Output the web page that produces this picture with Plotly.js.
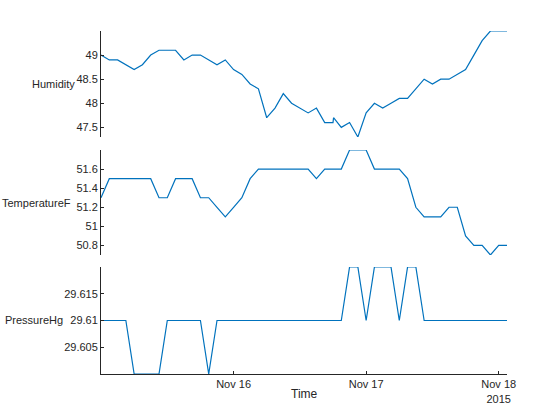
<!DOCTYPE html>
<html>
<head>
<meta charset="utf-8">
<script src="https://cdn.plot.ly/plotly-3.0.1.min.js"></script>
<style>
  body { margin: 0; background: #fff; }
  #chart { width: 560px; height: 420px; }
</style>
</head>
<body>
<div id="chart"></div>
<script>
// readings every 1.5 h from Nov 15 00:00, plus one extra reading just after 18:00 on Nov 16
let times = [
  "2015-11-15 00:00", "2015-11-15 01:30", "2015-11-15 03:00", "2015-11-15 04:30",
  "2015-11-15 06:00", "2015-11-15 07:30", "2015-11-15 09:00", "2015-11-15 10:30",
  "2015-11-15 12:00", "2015-11-15 13:30", "2015-11-15 15:00", "2015-11-15 16:30",
  "2015-11-15 18:00", "2015-11-15 19:30", "2015-11-15 21:00", "2015-11-15 22:30",
  "2015-11-16 00:00", "2015-11-16 01:30", "2015-11-16 03:00", "2015-11-16 04:30",
  "2015-11-16 06:00", "2015-11-16 07:30", "2015-11-16 09:00", "2015-11-16 10:30",
  "2015-11-16 12:00", "2015-11-16 13:30", "2015-11-16 15:00", "2015-11-16 16:30",
  "2015-11-16 18:00", "2015-11-16 18:06", "2015-11-16 19:30", "2015-11-16 21:00",
  "2015-11-16 22:30", "2015-11-17 00:00", "2015-11-17 01:30", "2015-11-17 03:00",
  "2015-11-17 04:30", "2015-11-17 06:00", "2015-11-17 07:30", "2015-11-17 09:00",
  "2015-11-17 10:30", "2015-11-17 12:00", "2015-11-17 13:30", "2015-11-17 15:00",
  "2015-11-17 16:30", "2015-11-17 18:00", "2015-11-17 19:30", "2015-11-17 21:00",
  "2015-11-17 22:30", "2015-11-18 00:00", "2015-11-18 01:30"
];

let humidity = [
  49.0, 48.9, 48.9, 48.8, 48.7, 48.8, 49.0, 49.1, 49.1, 49.1,
  48.9, 49.0, 49.0, 48.9, 48.8, 48.9, 48.7, 48.6, 48.4, 48.3,
  47.7, 47.9, 48.2, 48.0, 47.9, 47.8, 47.9, 47.6, 47.6, 47.7,
  47.5, 47.6, 47.3, 47.8, 48.0, 47.9, 48.0, 48.1, 48.1, 48.3,
  48.5, 48.4, 48.5, 48.5, 48.6, 48.7, 49.0, 49.3, 49.5, 49.5, 49.5
];

let temperatureF = [
  51.3, 51.5, 51.5, 51.5, 51.5, 51.5, 51.5, 51.3, 51.3, 51.5,
  51.5, 51.5, 51.3, 51.3, 51.2, 51.1, 51.2, 51.3, 51.5, 51.6,
  51.6, 51.6, 51.6, 51.6, 51.6, 51.6, 51.5, 51.6, 51.6, 51.6,
  51.6, 51.8, 51.8, 51.8, 51.6, 51.6, 51.6, 51.6, 51.5, 51.2,
  51.1, 51.1, 51.1, 51.2, 51.2, 50.9, 50.8, 50.8, 50.7, 50.8, 50.8
];

let pressureHg = [
  29.61, 29.61, 29.61, 29.61, 29.60, 29.60, 29.60, 29.60, 29.61, 29.61,
  29.61, 29.61, 29.61, 29.60, 29.61, 29.61, 29.61, 29.61, 29.61, 29.61,
  29.61, 29.61, 29.61, 29.61, 29.61, 29.61, 29.61, 29.61, 29.61, 29.61,
  29.61, 29.62, 29.62, 29.61, 29.62, 29.62, 29.62, 29.61, 29.62, 29.62,
  29.61, 29.61, 29.61, 29.61, 29.61, 29.61, 29.61, 29.61, 29.61, 29.61, 29.61
];

let varNames = ["Humidity", "TemperatureF", "PressureHg"];
let dayTicks = ["2015-11-16", "2015-11-17", "2015-11-18"];
let dayLabels = ["Nov 16", "Nov 17", "Nov 18<br>2015"];

let blue = "#0072BD";
let ink = "#262626";
let font = {family: "Liberation Sans", size: 11, color: ink};

let traces = [humidity, temperatureF, pressureHg].map((vals, i) => ({
  x: times,
  y: vals,
  yaxis: i === 0 ? "y" : "y" + (i + 1),
  xaxis: "x",
  mode: "lines",
  line: {color: blue, width: 1.2},
  hoverinfo: "x+y"
}));

function yax(domain, range, ticks, labels) {
  return {
    domain: domain,
    range: range,
    tickvals: ticks,
    ticktext: labels,
    showline: true,
    linecolor: ink,
    linewidth: 1,
    ticks: "inside",
    ticklen: 3,
    tickcolor: ink,
    showgrid: false,
    zeroline: false,
    fixedrange: true,
    anchor: "x",
    tickfont: font
  };
}

let labelNotes = varNames.map((name, i) => ({
  text: name,
  xref: "paper",
  yref: i === 0 ? "y domain" : "y" + (i + 1) + " domain",
  x: 0,
  y: 0.5,
  xanchor: "right",
  yanchor: "middle",
  xshift: [-24, -28, -36][i],
  showarrow: false,
  font: {family: font.family, size: 11, color: ink}
}));

// x-axis title as a note so the two-line tick label doesn't push it down
labelNotes.push({
  text: "Time",
  xref: "paper",
  yref: "paper",
  x: 0.5,
  y: 0,
  yshift: -20,
  xanchor: "center",
  yanchor: "middle",
  showarrow: false,
  font: {family: font.family, size: 12, color: ink}
});

let layout = {
  width: 560,
  height: 420,
  margin: {l: 101, r: 53, t: 31, b: 46},
  paper_bgcolor: "#fff",
  plot_bgcolor: "#fff",
  showlegend: false,
  font: font,
  xaxis: {
    type: "date",
    range: ["2015-11-15 00:00", "2015-11-18 01:30"],
    anchor: "y3",
    tickvals: dayTicks,
    ticktext: dayLabels,
    showline: true,
    linecolor: ink,
    ticks: "inside",
    ticklen: 3,
    tickcolor: ink,
    showgrid: false,
    zeroline: false,
    tickfont: font
  },
  yaxis: yax([0.691, 1], [47.3, 49.5], [47.5, 48, 48.5, 49], ["47.5", "48", "48.5", "49"]),
  yaxis2: yax([0.347, 0.653], [50.7, 51.8], [50.8, 51, 51.2, 51.4, 51.6], ["50.8", "51", "51.2", "51.4", "51.6"]),
  yaxis3: yax([0, 0.312], [29.6, 29.62], [29.605, 29.61, 29.615], ["29.605", "29.61", "29.615"]),
  annotations: labelNotes
};

Plotly.newPlot("chart", traces, layout, {displayModeBar: false, staticPlot: true});
</script>
</body>
</html>
